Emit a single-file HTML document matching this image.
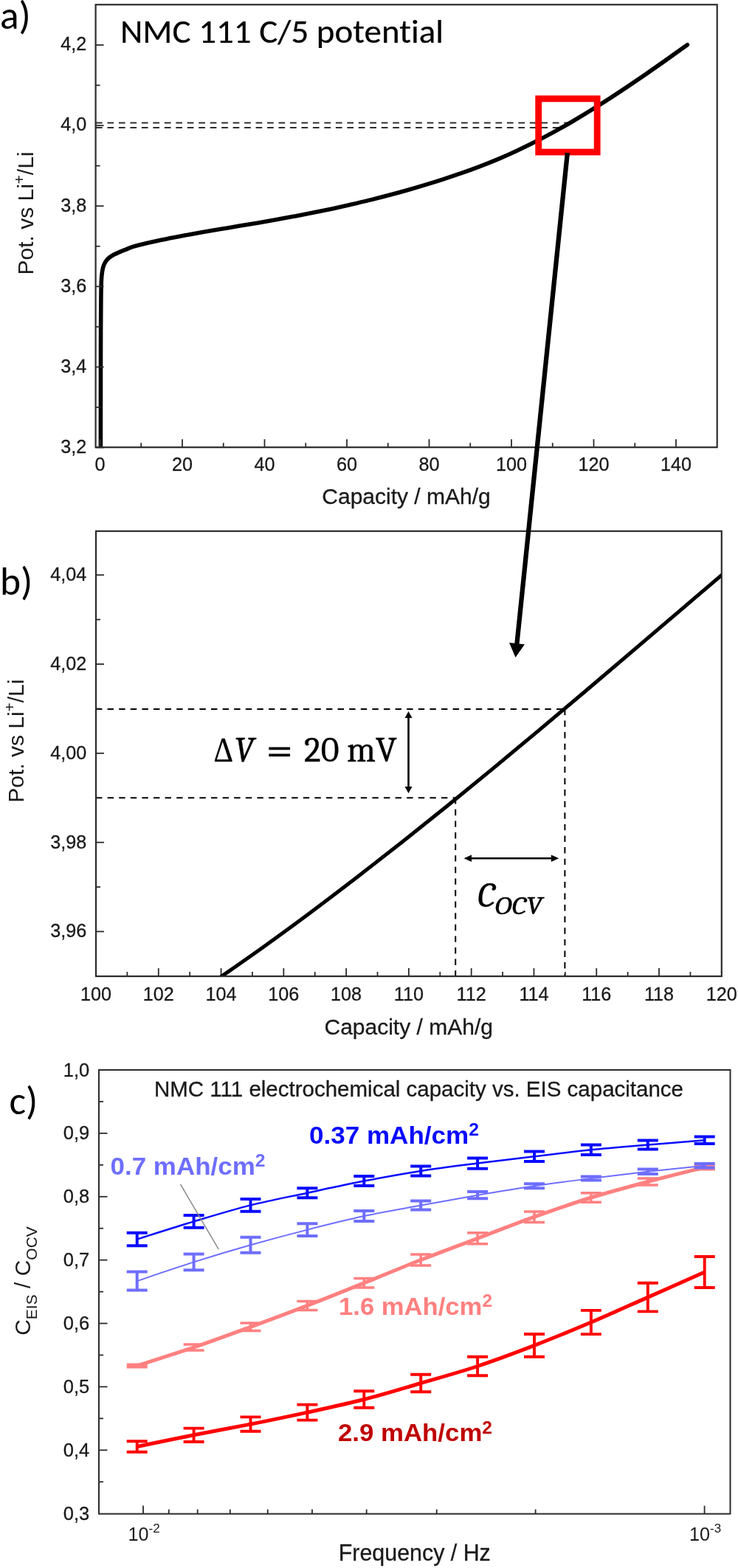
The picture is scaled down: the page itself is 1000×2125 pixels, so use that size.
<!DOCTYPE html>
<html><head><meta charset="utf-8"><title>NMC 111 figure</title>
<style>html,body{margin:0;padding:0;background:#fff;width:1000px;height:2125px;overflow:hidden}svg{display:block;font-variant-ligatures:none;font-kerning:normal}</style>
</head><body>
<svg width="1000" height="2125" viewBox="0 0 1000 2125">
<line x1="130" y1="166.4" x2="769" y2="166.4" stroke="#2e2e2e" stroke-width="2" stroke-dasharray="8.7 6.77"/>
<line x1="130" y1="172.9" x2="757" y2="172.9" stroke="#2e2e2e" stroke-width="2" stroke-dasharray="8.7 6.77"/>
<defs><clipPath id="ca"><rect x="129.6" y="6.3" width="842.1" height="599.9000000000001"/></clipPath></defs>
<path d="M136.4,612 C136.42,593.33 136.47,527 136.5,500 C136.53,473 136.53,465.83 136.6,450 C136.67,434.17 136.77,416.67 136.9,405 C137.03,393.33 137.12,386.25 137.4,380 C137.68,373.75 138.07,370.92 138.6,367.5 C139.13,364.08 139.7,361.87 140.6,359.5 C141.5,357.13 142.68,355.08 144,353.3 C145.32,351.52 146.83,350.13 148.5,348.8 C150.17,347.47 152.08,346.35 154,345.3 C155.92,344.25 157.33,343.65 160,342.5 C162.67,341.35 166.67,339.75 170,338.4 C173.33,337.05 175,335.93 180,334.4 C185,332.87 192.5,330.95 200,329.2 C207.5,327.45 216.67,325.58 225,323.9 C233.33,322.22 241.67,320.65 250,319.1 C258.33,317.55 266.67,316.07 275,314.6 C283.33,313.13 291.67,311.72 300,310.3 C308.33,308.88 316.67,307.5 325,306.1 C333.33,304.7 341.67,303.33 350,301.9 C358.33,300.47 366.67,299 375,297.5 C383.33,296 391.67,294.47 400,292.9 C408.33,291.33 416.67,289.77 425,288.1 C433.33,286.43 441.67,284.7 450,282.9 C458.33,281.1 466.67,279.22 475,277.3 C483.33,275.38 491.67,273.45 500,271.4 C508.33,269.35 516.67,267.2 525,265 C533.33,262.8 541.67,260.55 550,258.2 C558.33,255.85 566.67,253.42 575,250.9 C583.33,248.38 591.67,245.8 600,243.1 C608.33,240.4 616.67,237.62 625,234.7 C633.33,231.78 641.67,228.78 650,225.6 C658.33,222.42 666.67,219.12 675,215.6 C683.33,212.08 691.67,208.38 700,204.5 C708.33,200.62 716.67,196.57 725,192.35 C733.33,188.12 741.67,183.71 750,179.15 C758.33,174.59 766.67,169.85 775,164.98 C783.33,160.11 791.67,155.08 800,149.94 C808.33,144.8 816.67,139.51 825,134.13 C833.33,128.75 841.67,123.24 850,117.65 C858.33,112.06 866.67,106.36 875,100.61 C883.33,94.86 891.67,89.01 900,83.12 C908.33,77.23 919.77,69.01 925,65.27 C930.23,61.53 930.33,61.43 931.4,60.66" fill="none" stroke="#000" stroke-width="5.6" stroke-linecap="round" stroke-linejoin="round" clip-path="url(#ca)"/>
<line x1="135.5" y1="606.2" x2="135.5" y2="595.2" stroke="#2b2b2b" stroke-width="1.8"/>
<text x="135.5" y="638.4" font-size="25.2" text-anchor="middle" font-family="'Liberation Sans', Arial, sans-serif" font-weight="normal" fill="#1a1a1a" stroke="#1a1a1a" stroke-width="0.3">0</text>
<line x1="191.25" y1="606.2" x2="191.25" y2="600.2" stroke="#2b2b2b" stroke-width="1.8"/>
<line x1="247" y1="606.2" x2="247" y2="595.2" stroke="#2b2b2b" stroke-width="1.8"/>
<text x="247" y="638.4" font-size="25.2" text-anchor="middle" font-family="'Liberation Sans', Arial, sans-serif" font-weight="normal" fill="#1a1a1a" stroke="#1a1a1a" stroke-width="0.3">20</text>
<line x1="302.75" y1="606.2" x2="302.75" y2="600.2" stroke="#2b2b2b" stroke-width="1.8"/>
<line x1="358.5" y1="606.2" x2="358.5" y2="595.2" stroke="#2b2b2b" stroke-width="1.8"/>
<text x="358.5" y="638.4" font-size="25.2" text-anchor="middle" font-family="'Liberation Sans', Arial, sans-serif" font-weight="normal" fill="#1a1a1a" stroke="#1a1a1a" stroke-width="0.3">40</text>
<line x1="414.25" y1="606.2" x2="414.25" y2="600.2" stroke="#2b2b2b" stroke-width="1.8"/>
<line x1="470" y1="606.2" x2="470" y2="595.2" stroke="#2b2b2b" stroke-width="1.8"/>
<text x="470" y="638.4" font-size="25.2" text-anchor="middle" font-family="'Liberation Sans', Arial, sans-serif" font-weight="normal" fill="#1a1a1a" stroke="#1a1a1a" stroke-width="0.3">60</text>
<line x1="525.75" y1="606.2" x2="525.75" y2="600.2" stroke="#2b2b2b" stroke-width="1.8"/>
<line x1="581.5" y1="606.2" x2="581.5" y2="595.2" stroke="#2b2b2b" stroke-width="1.8"/>
<text x="581.5" y="638.4" font-size="25.2" text-anchor="middle" font-family="'Liberation Sans', Arial, sans-serif" font-weight="normal" fill="#1a1a1a" stroke="#1a1a1a" stroke-width="0.3">80</text>
<line x1="637.25" y1="606.2" x2="637.25" y2="600.2" stroke="#2b2b2b" stroke-width="1.8"/>
<line x1="693" y1="606.2" x2="693" y2="595.2" stroke="#2b2b2b" stroke-width="1.8"/>
<text x="693" y="638.4" font-size="25.2" text-anchor="middle" font-family="'Liberation Sans', Arial, sans-serif" font-weight="normal" fill="#1a1a1a" stroke="#1a1a1a" stroke-width="0.3">100</text>
<line x1="748.75" y1="606.2" x2="748.75" y2="600.2" stroke="#2b2b2b" stroke-width="1.8"/>
<line x1="804.5" y1="606.2" x2="804.5" y2="595.2" stroke="#2b2b2b" stroke-width="1.8"/>
<text x="804.5" y="638.4" font-size="25.2" text-anchor="middle" font-family="'Liberation Sans', Arial, sans-serif" font-weight="normal" fill="#1a1a1a" stroke="#1a1a1a" stroke-width="0.3">120</text>
<line x1="860.25" y1="606.2" x2="860.25" y2="600.2" stroke="#2b2b2b" stroke-width="1.8"/>
<line x1="916" y1="606.2" x2="916" y2="595.2" stroke="#2b2b2b" stroke-width="1.8"/>
<text x="916" y="638.4" font-size="25.2" text-anchor="middle" font-family="'Liberation Sans', Arial, sans-serif" font-weight="normal" fill="#1a1a1a" stroke="#1a1a1a" stroke-width="0.3">140</text>
<line x1="129.6" y1="606.5" x2="140.6" y2="606.5" stroke="#2b2b2b" stroke-width="1.8"/>
<text x="117.3" y="613.8" font-size="25.2" text-anchor="end" font-family="'Liberation Sans', Arial, sans-serif" font-weight="normal" fill="#1a1a1a" stroke="#1a1a1a" stroke-width="0.3">3,2</text>
<line x1="129.6" y1="551.95" x2="135.6" y2="551.95" stroke="#2b2b2b" stroke-width="1.8"/>
<line x1="129.6" y1="497.4" x2="140.6" y2="497.4" stroke="#2b2b2b" stroke-width="1.8"/>
<text x="117.3" y="504.7" font-size="25.2" text-anchor="end" font-family="'Liberation Sans', Arial, sans-serif" font-weight="normal" fill="#1a1a1a" stroke="#1a1a1a" stroke-width="0.3">3,4</text>
<line x1="129.6" y1="442.85" x2="135.6" y2="442.85" stroke="#2b2b2b" stroke-width="1.8"/>
<line x1="129.6" y1="388.3" x2="140.6" y2="388.3" stroke="#2b2b2b" stroke-width="1.8"/>
<text x="117.3" y="395.6" font-size="25.2" text-anchor="end" font-family="'Liberation Sans', Arial, sans-serif" font-weight="normal" fill="#1a1a1a" stroke="#1a1a1a" stroke-width="0.3">3,6</text>
<line x1="129.6" y1="333.75" x2="135.6" y2="333.75" stroke="#2b2b2b" stroke-width="1.8"/>
<line x1="129.6" y1="279.2" x2="140.6" y2="279.2" stroke="#2b2b2b" stroke-width="1.8"/>
<text x="117.3" y="286.5" font-size="25.2" text-anchor="end" font-family="'Liberation Sans', Arial, sans-serif" font-weight="normal" fill="#1a1a1a" stroke="#1a1a1a" stroke-width="0.3">3,8</text>
<line x1="129.6" y1="224.65" x2="135.6" y2="224.65" stroke="#2b2b2b" stroke-width="1.8"/>
<line x1="129.6" y1="170.1" x2="140.6" y2="170.1" stroke="#2b2b2b" stroke-width="1.8"/>
<text x="117.3" y="177.4" font-size="25.2" text-anchor="end" font-family="'Liberation Sans', Arial, sans-serif" font-weight="normal" fill="#1a1a1a" stroke="#1a1a1a" stroke-width="0.3">4,0</text>
<line x1="129.6" y1="115.55" x2="135.6" y2="115.55" stroke="#2b2b2b" stroke-width="1.8"/>
<line x1="129.6" y1="61" x2="140.6" y2="61" stroke="#2b2b2b" stroke-width="1.8"/>
<text x="117.3" y="68.3" font-size="25.2" text-anchor="end" font-family="'Liberation Sans', Arial, sans-serif" font-weight="normal" fill="#1a1a1a" stroke="#1a1a1a" stroke-width="0.3">4,2</text>
<rect x="129.6" y="6.3" width="842.1" height="599.9000000000001" fill="none" stroke="#2b2b2b" stroke-width="2.2"/>
<text x="163" y="58.3" font-size="44.5" text-anchor="start" font-family="Carlito, Calibri, 'Liberation Sans', sans-serif" font-weight="normal" fill="#000" stroke="#000" stroke-width="0.2" textLength="438" lengthAdjust="spacingAndGlyphs">NMC 111 C/5 potential</text>
<text x="550.5" y="683" font-size="30" text-anchor="middle" font-family="'Liberation Sans', Arial, sans-serif" font-weight="normal" fill="#1a1a1a" stroke="#1a1a1a" stroke-width="0.3">Capacity / mAh/g</text>
<text transform="translate(44.8,289) rotate(-90)" font-size="30" text-anchor="middle" font-family="'Liberation Sans', Arial, sans-serif" fill="#1a1a1a">Pot. vs Li<tspan font-size="20.5" dy="-11.5">+</tspan><tspan dy="11.5">/Li</tspan></text>
<text x="0" y="39" font-size="53.5" text-anchor="start" font-family="Carlito, Calibri, 'Liberation Sans', sans-serif" font-weight="normal" fill="#000" textLength="41.8" lengthAdjust="spacingAndGlyphs">a)</text>
<rect x="729.7" y="133.8" width="79.5" height="72.3" fill="none" stroke="#ff0000" stroke-width="8.8"/>
<line x1="130" y1="960.9" x2="765.4" y2="960.9" stroke="#000" stroke-width="2" stroke-dasharray="8.4 7.2"/>
<line x1="130" y1="1081.2" x2="617.2" y2="1081.2" stroke="#000" stroke-width="2" stroke-dasharray="8.4 7.2"/>
<line x1="617.2" y1="1081.2" x2="617.2" y2="1323.1" stroke="#000" stroke-width="2" stroke-dasharray="8.4 7.2"/>
<line x1="765.4" y1="960.9" x2="765.4" y2="1323.1" stroke="#000" stroke-width="2" stroke-dasharray="8.4 7.2"/>
<text x="130" y="1356.3" font-size="25.2" text-anchor="middle" font-family="'Liberation Sans', Arial, sans-serif" font-weight="normal" fill="#1a1a1a" stroke="#1a1a1a" stroke-width="0.3">100</text>
<line x1="172.39" y1="1323.1" x2="172.39" y2="1317.1" stroke="#2b2b2b" stroke-width="1.8"/>
<line x1="214.78" y1="1323.1" x2="214.78" y2="1312.1" stroke="#2b2b2b" stroke-width="1.8"/>
<text x="214.78" y="1356.3" font-size="25.2" text-anchor="middle" font-family="'Liberation Sans', Arial, sans-serif" font-weight="normal" fill="#1a1a1a" stroke="#1a1a1a" stroke-width="0.3">102</text>
<line x1="257.17" y1="1323.1" x2="257.17" y2="1317.1" stroke="#2b2b2b" stroke-width="1.8"/>
<line x1="299.56" y1="1323.1" x2="299.56" y2="1312.1" stroke="#2b2b2b" stroke-width="1.8"/>
<text x="299.56" y="1356.3" font-size="25.2" text-anchor="middle" font-family="'Liberation Sans', Arial, sans-serif" font-weight="normal" fill="#1a1a1a" stroke="#1a1a1a" stroke-width="0.3">104</text>
<line x1="341.95" y1="1323.1" x2="341.95" y2="1317.1" stroke="#2b2b2b" stroke-width="1.8"/>
<line x1="384.34" y1="1323.1" x2="384.34" y2="1312.1" stroke="#2b2b2b" stroke-width="1.8"/>
<text x="384.34" y="1356.3" font-size="25.2" text-anchor="middle" font-family="'Liberation Sans', Arial, sans-serif" font-weight="normal" fill="#1a1a1a" stroke="#1a1a1a" stroke-width="0.3">106</text>
<line x1="426.73" y1="1323.1" x2="426.73" y2="1317.1" stroke="#2b2b2b" stroke-width="1.8"/>
<line x1="469.12" y1="1323.1" x2="469.12" y2="1312.1" stroke="#2b2b2b" stroke-width="1.8"/>
<text x="469.12" y="1356.3" font-size="25.2" text-anchor="middle" font-family="'Liberation Sans', Arial, sans-serif" font-weight="normal" fill="#1a1a1a" stroke="#1a1a1a" stroke-width="0.3">108</text>
<line x1="511.51" y1="1323.1" x2="511.51" y2="1317.1" stroke="#2b2b2b" stroke-width="1.8"/>
<line x1="553.9" y1="1323.1" x2="553.9" y2="1312.1" stroke="#2b2b2b" stroke-width="1.8"/>
<text x="553.9" y="1356.3" font-size="25.2" text-anchor="middle" font-family="'Liberation Sans', Arial, sans-serif" font-weight="normal" fill="#1a1a1a" stroke="#1a1a1a" stroke-width="0.3">110</text>
<line x1="596.29" y1="1323.1" x2="596.29" y2="1317.1" stroke="#2b2b2b" stroke-width="1.8"/>
<line x1="638.68" y1="1323.1" x2="638.68" y2="1312.1" stroke="#2b2b2b" stroke-width="1.8"/>
<text x="638.68" y="1356.3" font-size="25.2" text-anchor="middle" font-family="'Liberation Sans', Arial, sans-serif" font-weight="normal" fill="#1a1a1a" stroke="#1a1a1a" stroke-width="0.3">112</text>
<line x1="681.07" y1="1323.1" x2="681.07" y2="1317.1" stroke="#2b2b2b" stroke-width="1.8"/>
<line x1="723.46" y1="1323.1" x2="723.46" y2="1312.1" stroke="#2b2b2b" stroke-width="1.8"/>
<text x="723.46" y="1356.3" font-size="25.2" text-anchor="middle" font-family="'Liberation Sans', Arial, sans-serif" font-weight="normal" fill="#1a1a1a" stroke="#1a1a1a" stroke-width="0.3">114</text>
<line x1="765.85" y1="1323.1" x2="765.85" y2="1317.1" stroke="#2b2b2b" stroke-width="1.8"/>
<line x1="808.24" y1="1323.1" x2="808.24" y2="1312.1" stroke="#2b2b2b" stroke-width="1.8"/>
<text x="808.24" y="1356.3" font-size="25.2" text-anchor="middle" font-family="'Liberation Sans', Arial, sans-serif" font-weight="normal" fill="#1a1a1a" stroke="#1a1a1a" stroke-width="0.3">116</text>
<line x1="850.63" y1="1323.1" x2="850.63" y2="1317.1" stroke="#2b2b2b" stroke-width="1.8"/>
<line x1="893.02" y1="1323.1" x2="893.02" y2="1312.1" stroke="#2b2b2b" stroke-width="1.8"/>
<text x="893.02" y="1356.3" font-size="25.2" text-anchor="middle" font-family="'Liberation Sans', Arial, sans-serif" font-weight="normal" fill="#1a1a1a" stroke="#1a1a1a" stroke-width="0.3">118</text>
<line x1="935.41" y1="1323.1" x2="935.41" y2="1317.1" stroke="#2b2b2b" stroke-width="1.8"/>
<text x="977.8" y="1356.3" font-size="25.2" text-anchor="middle" font-family="'Liberation Sans', Arial, sans-serif" font-weight="normal" fill="#1a1a1a" stroke="#1a1a1a" stroke-width="0.3">120</text>
<line x1="130" y1="1262.45" x2="141" y2="1262.45" stroke="#2b2b2b" stroke-width="1.8"/>
<text x="117.4" y="1270.35" font-size="25.2" text-anchor="end" font-family="'Liberation Sans', Arial, sans-serif" font-weight="normal" fill="#1a1a1a" stroke="#1a1a1a" stroke-width="0.3">3,96</text>
<line x1="130" y1="1202.05" x2="136" y2="1202.05" stroke="#2b2b2b" stroke-width="1.8"/>
<line x1="130" y1="1141.65" x2="141" y2="1141.65" stroke="#2b2b2b" stroke-width="1.8"/>
<text x="117.4" y="1149.55" font-size="25.2" text-anchor="end" font-family="'Liberation Sans', Arial, sans-serif" font-weight="normal" fill="#1a1a1a" stroke="#1a1a1a" stroke-width="0.3">3,98</text>
<line x1="130" y1="1081.25" x2="136" y2="1081.25" stroke="#2b2b2b" stroke-width="1.8"/>
<line x1="130" y1="1020.85" x2="141" y2="1020.85" stroke="#2b2b2b" stroke-width="1.8"/>
<text x="117.4" y="1028.75" font-size="25.2" text-anchor="end" font-family="'Liberation Sans', Arial, sans-serif" font-weight="normal" fill="#1a1a1a" stroke="#1a1a1a" stroke-width="0.3">4,00</text>
<line x1="130" y1="960.45" x2="136" y2="960.45" stroke="#2b2b2b" stroke-width="1.8"/>
<line x1="130" y1="900.05" x2="141" y2="900.05" stroke="#2b2b2b" stroke-width="1.8"/>
<text x="117.4" y="907.95" font-size="25.2" text-anchor="end" font-family="'Liberation Sans', Arial, sans-serif" font-weight="normal" fill="#1a1a1a" stroke="#1a1a1a" stroke-width="0.3">4,02</text>
<line x1="130" y1="839.65" x2="136" y2="839.65" stroke="#2b2b2b" stroke-width="1.8"/>
<line x1="130" y1="779.25" x2="141" y2="779.25" stroke="#2b2b2b" stroke-width="1.8"/>
<text x="117.4" y="787.15" font-size="25.2" text-anchor="end" font-family="'Liberation Sans', Arial, sans-serif" font-weight="normal" fill="#1a1a1a" stroke="#1a1a1a" stroke-width="0.3">4,04</text>
<defs><clipPath id="cb"><rect x="130.0" y="719.8" width="847.8" height="603.3"/></clipPath></defs>
<path d="M296,1326.14 C306.36,1318.86 337.45,1297.32 358.18,1282.46 C378.91,1267.6 399.64,1252.4 420.36,1236.96 C441.09,1221.52 461.82,1205.77 482.55,1189.82 C503.27,1173.87 524,1157.65 544.73,1141.25 C565.45,1124.85 586.18,1108.21 606.91,1091.43 C627.64,1074.65 648.36,1057.67 669.09,1040.57 C689.82,1023.48 710.55,1006.21 731.27,988.86 C752,971.52 772.73,954.03 793.45,936.5 C814.18,918.97 834.91,901.33 855.64,883.68 C876.36,866.03 897.09,848.31 917.82,830.6 C938.55,812.9 969.64,786.32 980,777.46" fill="none" stroke="#000" stroke-width="5" clip-path="url(#cb)"/>
<rect x="130.0" y="719.8" width="847.8" height="603.3" fill="none" stroke="#2b2b2b" stroke-width="2.2"/>
<line x1="553.5" y1="970" x2="553.5" y2="1068" stroke="#000" stroke-width="2.6"/>
<path d="M553.5,964 L558.5,973 L548.5,973 Z M553.5,1075 L558.5,1066 L548.5,1066 Z" fill="#000"/>
<line x1="636" y1="1163.3" x2="750" y2="1163.3" stroke="#000" stroke-width="2.6"/>
<path d="M628.5,1163.3 L639,1158.5 L639,1168.1 Z M757.3,1163.3 L746.8,1158.5 L746.8,1168.1 Z" fill="#000"/>
<text x="289.5" y="1031.8" font-size="47" text-anchor="start" font-family="Caladea, Cambria, 'Liberation Serif', serif" font-weight="normal" fill="#000" stroke="#000" stroke-width="0.3" textLength="26.5" lengthAdjust="spacingAndGlyphs">&#916;</text>
<text x="317.5" y="1032" font-size="48" text-anchor="start" font-family="Caladea, Cambria, 'Liberation Serif', serif" font-weight="normal" fill="#000" stroke="#000" stroke-width="0.3" font-style="italic">V</text>
<text x="360.5" y="1037" font-size="62" text-anchor="start" font-family="Caladea, Cambria, 'Liberation Serif', serif" font-weight="normal" fill="#000" stroke="#000" stroke-width="0.3" textLength="36.5" lengthAdjust="spacingAndGlyphs">=</text>
<text x="412" y="1032" font-size="48" text-anchor="start" font-family="Caladea, Cambria, 'Liberation Serif', serif" font-weight="normal" fill="#000" stroke="#000" stroke-width="0.3">20 mV</text>
<text x="647" y="1229.3" font-size="48" text-anchor="start" font-family="Caladea, Cambria, 'Liberation Serif', serif" font-weight="normal" fill="#000" stroke="#000" stroke-width="0.3" font-style="italic">C</text>
<text x="670.5" y="1238.5" font-size="33" text-anchor="start" font-family="Caladea, Cambria, 'Liberation Serif', serif" font-weight="normal" fill="#000" stroke="#000" stroke-width="0.3" font-style="italic" textLength="64.5" lengthAdjust="spacingAndGlyphs">OCV</text>
<text x="553.7" y="1401.6" font-size="30" text-anchor="middle" font-family="'Liberation Sans', Arial, sans-serif" font-weight="normal" fill="#1a1a1a" stroke="#1a1a1a" stroke-width="0.3">Capacity / mAh/g</text>
<text transform="translate(31.5,1004.2) rotate(-90)" font-size="30" text-anchor="middle" font-family="'Liberation Sans', Arial, sans-serif" fill="#1a1a1a">Pot. vs Li<tspan font-size="20.5" dy="-11.5">+</tspan><tspan dy="11.5">/Li</tspan></text>
<text x="0" y="805.5" font-size="53.5" text-anchor="start" font-family="Carlito, Calibri, 'Liberation Sans', sans-serif" font-weight="normal" fill="#000" textLength="44.3" lengthAdjust="spacingAndGlyphs">b)</text>
<line x1="768.9" y1="207" x2="700.1" y2="875.5" stroke="#000" stroke-width="6.3"/>
<path d="M698.5,891 L690,871 L710.9,873.2 Z" fill="#000"/>
<text x="121.2" y="2059.8" font-size="25.5" text-anchor="end" font-family="'Liberation Sans', Arial, sans-serif" font-weight="normal" fill="#1a1a1a" stroke="#1a1a1a" stroke-width="0.3">0,3</text>
<line x1="134" y1="2008.25" x2="140" y2="2008.25" stroke="#2b2b2b" stroke-width="1.8"/>
<line x1="134" y1="1965.31" x2="145.5" y2="1965.31" stroke="#2b2b2b" stroke-width="1.8"/>
<text x="121.2" y="1973.91" font-size="25.5" text-anchor="end" font-family="'Liberation Sans', Arial, sans-serif" font-weight="normal" fill="#1a1a1a" stroke="#1a1a1a" stroke-width="0.3">0,4</text>
<line x1="134" y1="1922.36" x2="140" y2="1922.36" stroke="#2b2b2b" stroke-width="1.8"/>
<line x1="134" y1="1879.42" x2="145.5" y2="1879.42" stroke="#2b2b2b" stroke-width="1.8"/>
<text x="121.2" y="1888.02" font-size="25.5" text-anchor="end" font-family="'Liberation Sans', Arial, sans-serif" font-weight="normal" fill="#1a1a1a" stroke="#1a1a1a" stroke-width="0.3">0,5</text>
<line x1="134" y1="1836.47" x2="140" y2="1836.47" stroke="#2b2b2b" stroke-width="1.8"/>
<line x1="134" y1="1793.53" x2="145.5" y2="1793.53" stroke="#2b2b2b" stroke-width="1.8"/>
<text x="121.2" y="1802.13" font-size="25.5" text-anchor="end" font-family="'Liberation Sans', Arial, sans-serif" font-weight="normal" fill="#1a1a1a" stroke="#1a1a1a" stroke-width="0.3">0,6</text>
<line x1="134" y1="1750.58" x2="140" y2="1750.58" stroke="#2b2b2b" stroke-width="1.8"/>
<line x1="134" y1="1707.64" x2="145.5" y2="1707.64" stroke="#2b2b2b" stroke-width="1.8"/>
<text x="121.2" y="1716.24" font-size="25.5" text-anchor="end" font-family="'Liberation Sans', Arial, sans-serif" font-weight="normal" fill="#1a1a1a" stroke="#1a1a1a" stroke-width="0.3">0,7</text>
<line x1="134" y1="1664.69" x2="140" y2="1664.69" stroke="#2b2b2b" stroke-width="1.8"/>
<line x1="134" y1="1621.75" x2="145.5" y2="1621.75" stroke="#2b2b2b" stroke-width="1.8"/>
<text x="121.2" y="1630.35" font-size="25.5" text-anchor="end" font-family="'Liberation Sans', Arial, sans-serif" font-weight="normal" fill="#1a1a1a" stroke="#1a1a1a" stroke-width="0.3">0,8</text>
<line x1="134" y1="1578.8" x2="140" y2="1578.8" stroke="#2b2b2b" stroke-width="1.8"/>
<line x1="134" y1="1535.86" x2="145.5" y2="1535.86" stroke="#2b2b2b" stroke-width="1.8"/>
<text x="121.2" y="1544.46" font-size="25.5" text-anchor="end" font-family="'Liberation Sans', Arial, sans-serif" font-weight="normal" fill="#1a1a1a" stroke="#1a1a1a" stroke-width="0.3">0,9</text>
<line x1="134" y1="1492.91" x2="140" y2="1492.91" stroke="#2b2b2b" stroke-width="1.8"/>
<text x="121.2" y="1458.57" font-size="25.5" text-anchor="end" font-family="'Liberation Sans', Arial, sans-serif" font-weight="normal" fill="#1a1a1a" stroke="#1a1a1a" stroke-width="0.3">1,0</text>
<line x1="954.6" y1="2051.6" x2="954.6" y2="2040.6" stroke="#2b2b2b" stroke-width="1.8"/>
<line x1="194" y1="2051.6" x2="194" y2="2040.6" stroke="#2b2b2b" stroke-width="1.8"/>
<line x1="725.64" y1="2051.6" x2="725.64" y2="2045.6" stroke="#2b2b2b" stroke-width="1.8"/>
<line x1="591.7" y1="2051.6" x2="591.7" y2="2045.6" stroke="#2b2b2b" stroke-width="1.8"/>
<line x1="496.67" y1="2051.6" x2="496.67" y2="2045.6" stroke="#2b2b2b" stroke-width="1.8"/>
<line x1="422.96" y1="2051.6" x2="422.96" y2="2045.6" stroke="#2b2b2b" stroke-width="1.8"/>
<line x1="362.74" y1="2051.6" x2="362.74" y2="2045.6" stroke="#2b2b2b" stroke-width="1.8"/>
<line x1="311.82" y1="2051.6" x2="311.82" y2="2045.6" stroke="#2b2b2b" stroke-width="1.8"/>
<line x1="267.71" y1="2051.6" x2="267.71" y2="2045.6" stroke="#2b2b2b" stroke-width="1.8"/>
<line x1="228.8" y1="2051.6" x2="228.8" y2="2045.6" stroke="#2b2b2b" stroke-width="1.8"/>
<text x="173.5" y="2087.6" font-size="25.2" font-family="'Liberation Sans', Arial, sans-serif" fill="#1a1a1a">10<tspan font-size="17" dy="-10.2">-2</tspan></text>
<text x="934" y="2087.6" font-size="25.2" font-family="'Liberation Sans', Arial, sans-serif" fill="#1a1a1a">10<tspan font-size="17" dy="-10.2">-3</tspan></text>
<rect x="134.0" y="1450.0" width="855.5" height="601.5999999999999" fill="none" stroke="#2b2b2b" stroke-width="2"/>
<path d="M185.7,1851 C198.52,1846.83 236.97,1834.78 262.6,1826 C288.23,1817.22 313.87,1807.73 339.5,1798.3 C365.13,1788.87 390.77,1779.32 416.4,1769.4 C442.03,1759.48 467.67,1749.12 493.3,1738.8 C518.93,1728.48 544.57,1717.58 570.2,1707.5 C595.83,1697.42 621.47,1688.02 647.1,1678.3 C672.73,1668.58 698.37,1658.42 724,1649.2 C749.63,1639.98 775.27,1630.95 800.9,1623 C826.53,1615.05 852.17,1608.33 877.8,1601.5 C903.43,1594.67 941.88,1585.25 954.7,1582" fill="none" stroke="#ff8080" stroke-width="5" stroke-linejoin="round"/>
<path d="M185.7,1849.2 V1852.8 M171.7,1849.2 H199.7 M171.7,1852.8 H199.7" stroke="#ff8080" stroke-width="3.5" fill="none"/>
<path d="M262.6,1822 V1830 M248.6,1822 H276.6 M248.6,1830 H276.6" stroke="#ff8080" stroke-width="3.5" fill="none"/>
<path d="M339.5,1793.1 V1803.5 M325.5,1793.1 H353.5 M325.5,1803.5 H353.5" stroke="#ff8080" stroke-width="3.5" fill="none"/>
<path d="M416.4,1763.4 V1775.4 M402.4,1763.4 H430.4 M402.4,1775.4 H430.4" stroke="#ff8080" stroke-width="3.5" fill="none"/>
<path d="M493.3,1732.5 V1745.1 M479.3,1732.5 H507.3 M479.3,1745.1 H507.3" stroke="#ff8080" stroke-width="3.5" fill="none"/>
<path d="M570.2,1700 V1715 M556.2,1700 H584.2 M556.2,1715 H584.2" stroke="#ff8080" stroke-width="3.5" fill="none"/>
<path d="M647.1,1670.8 V1685.8 M633.1,1670.8 H661.1 M633.1,1685.8 H661.1" stroke="#ff8080" stroke-width="3.5" fill="none"/>
<path d="M724,1642 V1656.4 M710,1642 H738 M710,1656.4 H738" stroke="#ff8080" stroke-width="3.5" fill="none"/>
<path d="M800.9,1616.7 V1629.3 M786.9,1616.7 H814.9 M786.9,1629.3 H814.9" stroke="#ff8080" stroke-width="3.5" fill="none"/>
<path d="M877.8,1597 V1606 M863.8,1597 H891.8 M863.8,1606 H891.8" stroke="#ff8080" stroke-width="3.5" fill="none"/>
<path d="M954.7,1579.3 V1584.7 M940.7,1579.3 H968.7 M940.7,1584.7 H968.7" stroke="#ff8080" stroke-width="3.5" fill="none"/>
<path d="M185.7,1960.5 C198.52,1957.88 236.97,1949.87 262.6,1944.8 C288.23,1939.73 313.87,1935.22 339.5,1930.1 C365.13,1924.98 390.77,1919.7 416.4,1914.1 C442.03,1908.5 467.67,1903.1 493.3,1896.5 C518.93,1889.9 544.57,1882 570.2,1874.5 C595.83,1867 621.47,1860.02 647.1,1851.5 C672.73,1842.98 698.37,1833.32 724,1823.4 C749.63,1813.48 775.27,1802.88 800.9,1792 C826.53,1781.12 852.17,1769.43 877.8,1758.1 C903.43,1746.77 941.88,1729.68 954.7,1724" fill="none" stroke="#ff0000" stroke-width="5" stroke-linejoin="round"/>
<path d="M185.7,1953.2 V1967.8 M171.7,1953.2 H199.7 M171.7,1967.8 H199.7" stroke="#ff0000" stroke-width="3.9" fill="none"/>
<path d="M262.6,1935.6 V1954 M248.6,1935.6 H276.6 M248.6,1954 H276.6" stroke="#ff0000" stroke-width="3.9" fill="none"/>
<path d="M339.5,1920.4 V1939.8 M325.5,1920.4 H353.5 M325.5,1939.8 H353.5" stroke="#ff0000" stroke-width="3.9" fill="none"/>
<path d="M416.4,1903.6 V1924.6 M402.4,1903.6 H430.4 M402.4,1924.6 H430.4" stroke="#ff0000" stroke-width="3.9" fill="none"/>
<path d="M493.3,1885.2 V1907.8 M479.3,1885.2 H507.3 M479.3,1907.8 H507.3" stroke="#ff0000" stroke-width="3.9" fill="none"/>
<path d="M570.2,1862.7 V1886.3 M556.2,1862.7 H584.2 M556.2,1886.3 H584.2" stroke="#ff0000" stroke-width="3.9" fill="none"/>
<path d="M647.1,1838.7 V1864.3 M633.1,1838.7 H661.1 M633.1,1864.3 H661.1" stroke="#ff0000" stroke-width="3.9" fill="none"/>
<path d="M724,1808 V1838.8 M710,1808 H738 M710,1838.8 H738" stroke="#ff0000" stroke-width="3.9" fill="none"/>
<path d="M800.9,1775.9 V1808.1 M786.9,1775.9 H814.9 M786.9,1808.1 H814.9" stroke="#ff0000" stroke-width="3.9" fill="none"/>
<path d="M877.8,1738.8 V1777.4 M863.8,1738.8 H891.8 M863.8,1777.4 H891.8" stroke="#ff0000" stroke-width="3.9" fill="none"/>
<path d="M954.7,1703 V1745 M940.7,1703 H968.7 M940.7,1745 H968.7" stroke="#ff0000" stroke-width="3.9" fill="none"/>
<path d="M185.7,1736 C198.52,1731.73 236.97,1718.52 262.6,1710.4 C288.23,1702.28 313.87,1694.6 339.5,1687.3 C365.13,1680 390.77,1673.13 416.4,1666.6 C442.03,1660.07 467.67,1653.62 493.3,1648.1 C518.93,1642.58 544.57,1638.23 570.2,1633.5 C595.83,1628.77 621.47,1624.07 647.1,1619.7 C672.73,1615.33 698.37,1611.08 724,1607.3 C749.63,1603.52 775.27,1600.27 800.9,1597 C826.53,1593.73 852.17,1590.57 877.8,1587.7 C903.43,1584.83 941.88,1581.12 954.7,1579.8" fill="none" stroke="#6e6eff" stroke-width="2" stroke-linejoin="round"/>
<path d="M185.7,1723.4 V1748.6 M171.7,1723.4 H199.7 M171.7,1748.6 H199.7" stroke="#6e6eff" stroke-width="4" fill="none"/>
<path d="M262.6,1699.6 V1721.2 M248.6,1699.6 H276.6 M248.6,1721.2 H276.6" stroke="#6e6eff" stroke-width="4" fill="none"/>
<path d="M339.5,1676.8 V1697.8 M325.5,1676.8 H353.5 M325.5,1697.8 H353.5" stroke="#6e6eff" stroke-width="4" fill="none"/>
<path d="M416.4,1658.2 V1675 M402.4,1658.2 H430.4 M402.4,1675 H430.4" stroke="#6e6eff" stroke-width="4" fill="none"/>
<path d="M493.3,1641.1 V1655.1 M479.3,1641.1 H507.3 M479.3,1655.1 H507.3" stroke="#6e6eff" stroke-width="4" fill="none"/>
<path d="M570.2,1627.5 V1639.5 M556.2,1627.5 H584.2 M556.2,1639.5 H584.2" stroke="#6e6eff" stroke-width="4" fill="none"/>
<path d="M647.1,1615.1 V1624.3 M633.1,1615.1 H661.1 M633.1,1624.3 H661.1" stroke="#6e6eff" stroke-width="4" fill="none"/>
<path d="M724,1604.3 V1610.3 M710,1604.3 H738 M710,1610.3 H738" stroke="#6e6eff" stroke-width="4" fill="none"/>
<path d="M800.9,1594.4 V1599.6 M786.9,1594.4 H814.9 M786.9,1599.6 H814.9" stroke="#6e6eff" stroke-width="4" fill="none"/>
<path d="M877.8,1584.5 V1590.9 M863.8,1584.5 H891.8 M863.8,1590.9 H891.8" stroke="#6e6eff" stroke-width="4" fill="none"/>
<path d="M954.7,1577 V1582.6 M940.7,1577 H968.7 M940.7,1582.6 H968.7" stroke="#6e6eff" stroke-width="4" fill="none"/>
<path d="M185.7,1679.5 C198.52,1675.48 236.97,1663.08 262.6,1655.4 C288.23,1647.72 313.87,1639.85 339.5,1633.4 C365.13,1626.95 390.77,1622.17 416.4,1616.7 C442.03,1611.23 467.67,1605.55 493.3,1600.6 C518.93,1595.65 544.57,1591 570.2,1587 C595.83,1583 621.47,1579.88 647.1,1576.6 C672.73,1573.32 698.37,1570.35 724,1567.3 C749.63,1564.25 775.27,1560.93 800.9,1558.3 C826.53,1555.67 852.17,1553.68 877.8,1551.5 C903.43,1549.32 941.88,1546.25 954.7,1545.2" fill="none" stroke="#0a0aff" stroke-width="2.5" stroke-linejoin="round"/>
<path d="M185.7,1670.7 V1688.3 M171.7,1670.7 H199.7 M171.7,1688.3 H199.7" stroke="#0a0aff" stroke-width="4" fill="none"/>
<path d="M262.6,1647 V1663.8 M248.6,1647 H276.6 M248.6,1663.8 H276.6" stroke="#0a0aff" stroke-width="4" fill="none"/>
<path d="M339.5,1625 V1641.8 M325.5,1625 H353.5 M325.5,1641.8 H353.5" stroke="#0a0aff" stroke-width="4" fill="none"/>
<path d="M416.4,1610.2 V1623.2 M402.4,1610.2 H430.4 M402.4,1623.2 H430.4" stroke="#0a0aff" stroke-width="4" fill="none"/>
<path d="M493.3,1594.1 V1607.1 M479.3,1594.1 H507.3 M479.3,1607.1 H507.3" stroke="#0a0aff" stroke-width="4" fill="none"/>
<path d="M570.2,1580.4 V1593.6 M556.2,1580.4 H584.2 M556.2,1593.6 H584.2" stroke="#0a0aff" stroke-width="4" fill="none"/>
<path d="M647.1,1569.5 V1583.7 M633.1,1569.5 H661.1 M633.1,1583.7 H661.1" stroke="#0a0aff" stroke-width="4" fill="none"/>
<path d="M724,1560.6 V1574 M710,1560.6 H738 M710,1574 H738" stroke="#0a0aff" stroke-width="4" fill="none"/>
<path d="M800.9,1551.6 V1565 M786.9,1551.6 H814.9 M786.9,1565 H814.9" stroke="#0a0aff" stroke-width="4" fill="none"/>
<path d="M877.8,1545.5 V1557.5 M863.8,1545.5 H891.8 M863.8,1557.5 H891.8" stroke="#0a0aff" stroke-width="4" fill="none"/>
<path d="M954.7,1540.4 V1550 M940.7,1540.4 H968.7 M940.7,1550 H968.7" stroke="#0a0aff" stroke-width="4" fill="none"/>
<line x1="244.5" y1="1605" x2="296.3" y2="1693.2" stroke="#8c8c8c" stroke-width="1.5"/>
<text x="419" y="1549.8" font-size="34" font-weight="bold" font-family="'Liberation Sans', Arial, sans-serif" fill="#0a0aff" textLength="230" lengthAdjust="spacingAndGlyphs">0.37 mAh/cm<tspan font-size="24" dy="-10.6">2</tspan></text>
<text x="149.5" y="1591.7" font-size="34" font-weight="bold" font-family="'Liberation Sans', Arial, sans-serif" fill="#6e6eff" textLength="210" lengthAdjust="spacingAndGlyphs">0.7 mAh/cm<tspan font-size="24" dy="-10.6">2</tspan></text>
<text x="459" y="1781.6" font-size="34" font-weight="bold" font-family="'Liberation Sans', Arial, sans-serif" fill="#ff8080" textLength="208" lengthAdjust="spacingAndGlyphs">1.6 mAh/cm<tspan font-size="24" dy="-10.6">2</tspan></text>
<text x="458" y="1953.2" font-size="34" font-weight="bold" font-family="'Liberation Sans', Arial, sans-serif" fill="#c00000" textLength="209" lengthAdjust="spacingAndGlyphs">2.9 mAh/cm<tspan font-size="24" dy="-10.6">2</tspan></text>
<text x="209" y="1486" font-size="29.5" text-anchor="start" font-family="'Liberation Sans', Arial, sans-serif" font-weight="normal" fill="#1a1a1a" stroke="#1a1a1a" stroke-width="0.3" textLength="717" lengthAdjust="spacingAndGlyphs">NMC 111 electrochemical capacity vs. EIS capacitance</text>
<text x="561.8" y="2115.4" font-size="30.5" text-anchor="middle" font-family="'Liberation Sans', Arial, sans-serif" font-weight="normal" fill="#1a1a1a" stroke="#1a1a1a" stroke-width="0.3" textLength="206" lengthAdjust="spacingAndGlyphs">Frequency / Hz</text>
<text transform="translate(41,1736) rotate(-90)" font-size="30" text-anchor="middle" font-family="'Liberation Sans', Arial, sans-serif" fill="#1a1a1a">C<tspan font-size="21" dy="8.5">EIS</tspan><tspan dy="-8.5"> / C</tspan><tspan font-size="21" dy="8.5">OCV</tspan></text>
<text x="12.5" y="1509.5" font-size="53.5" text-anchor="start" font-family="Carlito, Calibri, 'Liberation Sans', sans-serif" font-weight="normal" fill="#000" textLength="38.8" lengthAdjust="spacingAndGlyphs">c)</text>
</svg>
</body></html>
